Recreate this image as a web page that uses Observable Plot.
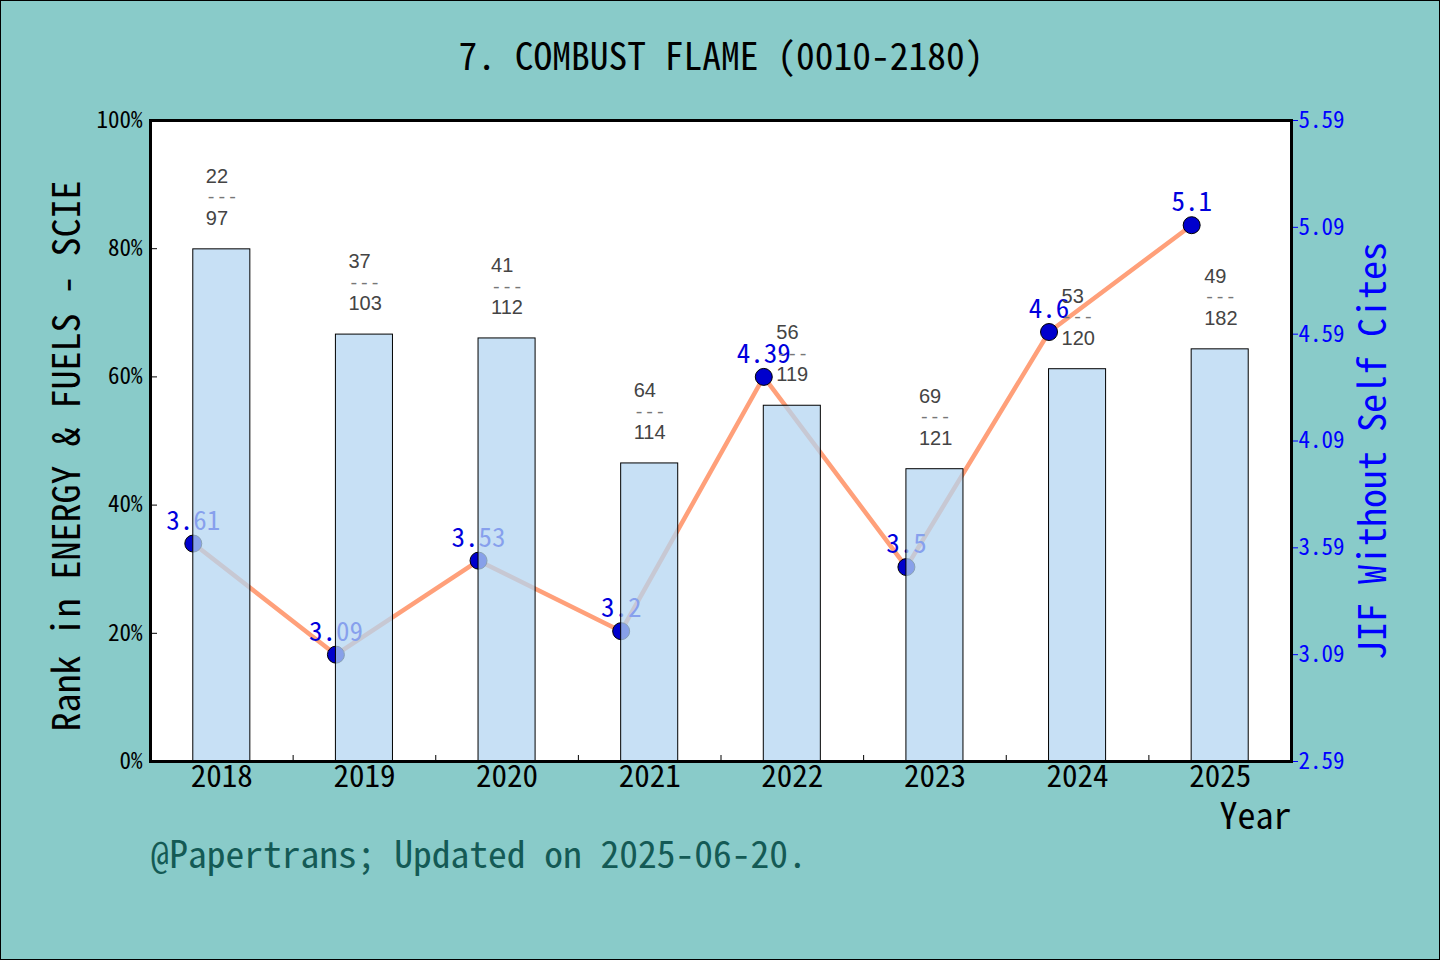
<!DOCTYPE html>
<html><head><meta charset="utf-8">
<script src="https://cdn.jsdelivr.net/npm/d3@7"></script>
<script src="https://cdn.jsdelivr.net/npm/@observablehq/plot@0.6"></script>
<style>
html,body{margin:0;padding:0;background:#89cbc9;}
#wrap{position:relative;width:1440px;height:960px;overflow:hidden;}
#wrap svg{display:block;}
#border{position:absolute;left:0;top:0;width:1438px;height:958px;border:1px solid #000;pointer-events:none;}
</style></head>
<body><div id="wrap"><div id="border"></div></div>
<script>
const years = [2018, 2019, 2020, 2021, 2022, 2023, 2024, 2025];
const rankPct = [79.9, 66.6, 66.0, 46.5, 55.5, 45.6, 61.2, 64.3];
const jif = [3.61, 3.09, 3.53, 3.2, 4.39, 3.5, 4.6, 5.1];
const ranks = [22, 37, 41, 64, 56, 69, 53, 49];
const totals = [97, 103, 112, 114, 119, 121, 120, 182];
const leftTicks = [0, 20, 40, 60, 80, 100];
const jifTicks = [2.59, 3.09, 3.59, 4.09, 4.59, 5.09, 5.59];
const minorTicks = [2018.5, 2019.5, 2020.5, 2021.5, 2022.5, 2023.5, 2024.5];
const titleText = "7. COMBUST FLAME (0010-2180)";
const leftTitle = "Rank in ENERGY & FUELS - SCIE";
const rightTitle = "JIF Without Self Cites";
const xTitle = "Year";
const footer = "@Papertrans; Updated on 2025-06-20.";

const mono = "'Noto Sans Mono CJK SC','DejaVu Sans Mono',monospace";
const sans = "'Liberation Sans',Arial,sans-serif";
const jifMin = 2.59, jifSpan = 3;
const toPct = v => (v - jifMin) / jifSpan * 100;
const data = years.map((year, i) => ({
  year, rank: rankPct[i], jif: jif[i], label: String(jif[i]),
  top: String(ranks[i]), bottom: String(totals[i])
}));

const chart = Plot.plot({
  width: 1440, height: 960,
  marginLeft: 150, marginRight: 149, marginTop: 120, marginBottom: 199,
  style: {background: "#89cbc9", fontFamily: mono, overflow: "visible"},
  x: {type: "linear", domain: [2017.5, 2025.5]},
  y: {domain: [0, 100]},
  marks: [
    Plot.frame({fill: "white", stroke: null}),
    Plot.line(data, {x: d => d.year - 0.2, y: d => toPct(d.jif), stroke: "#ffa07a", strokeWidth: 4.5}),
    Plot.dot(data, {x: d => d.year - 0.2, y: d => toPct(d.jif), r: 8.5, fill: "#0000cd", stroke: "black", strokeWidth: 1}),
    Plot.text(data, {x: d => d.year - 0.2, y: d => toPct(d.jif), text: "label", fill: "#0000dd", fontSize: 27, fontFamily: mono, lineAnchor: "bottom", dy: -14}),
    Plot.rectY(data, {x1: d => d.year - 0.2, x2: d => d.year + 0.2, y1: 0, y2: "rank", fill: "rgb(180,213,241)", fillOpacity: 0.75, stroke: "black", strokeWidth: 1}),
    Plot.text(data, {x: "year", y: "rank", text: "top", textAnchor: "start", lineAnchor: "middle", dx: -16, dy: -73, fontSize: 20, fill: "#444", fontFamily: sans}),
    Plot.text(data, {x: "year", y: "rank", text: () => "---", className: "dashes", textAnchor: "start", lineAnchor: "middle", dx: -16, dy: -52, fontSize: 19, fill: "#777", fontFamily: "'Liberation Mono','DejaVu Sans Mono',monospace"}),
    Plot.text(data, {x: "year", y: "rank", text: "bottom", textAnchor: "start", lineAnchor: "middle", dx: -16, dy: -31, fontSize: 20, fill: "#444", fontFamily: sans}),
    Plot.axisY({anchor: "left", ticks: leftTicks, tickFormat: d => d + "%", tickSize: -7, tickPadding: 15, fontSize: 23, fontFamily: mono, label: null, stroke: "black", fill: "black"}),
    Plot.axisY({anchor: "right", ticks: jifTicks.map(toPct), tickFormat: d => (d / 100 * jifSpan + jifMin).toFixed(2), tickSize: 6, tickPadding: 1, fontSize: 23, fontFamily: mono, label: null, stroke: "#0000ff", fill: "#0000ff"}),
    Plot.axisX({ticks: years, tickFormat: d => String(d), tickSize: 0, tickPadding: 3, fontSize: 31, fontFamily: mono, label: null, fill: "black"}),
    Plot.axisX({ticks: minorTicks, tickFormat: () => "", tickSize: -6, label: null, stroke: "black"}),
    Plot.frame({stroke: "black", strokeWidth: 3}),
    Plot.text([titleText], {text: d => d, frameAnchor: "top", dy: -63, lineAnchor: "middle", fontSize: 37.5, fontFamily: mono, fill: "black"}),
    Plot.text([leftTitle], {text: d => d, frameAnchor: "left", dx: -83, dy: 15, rotate: -90, lineAnchor: "middle", textAnchor: "middle", fontSize: 38, fontFamily: mono, fill: "black"}),
    Plot.text([rightTitle], {text: d => d, frameAnchor: "right", dx: 82, dy: 10, rotate: -90, lineAnchor: "middle", textAnchor: "middle", fontSize: 38, fontFamily: mono, fill: "#0000ff"}),
    Plot.text([xTitle], {text: d => d, frameAnchor: "bottom-right", dy: 56, textAnchor: "end", lineAnchor: "middle", fontSize: 36, fontFamily: mono, fill: "black"}),
    Plot.text([footer], {text: d => d, frameAnchor: "bottom-left", dy: 94, textAnchor: "start", lineAnchor: "middle", fontSize: 37.5, fontFamily: mono, fill: "#145a55"})
  ]
});
d3.select(chart).selectAll(".dashes text").attr("textLength", 32).attr("lengthAdjust", "spacingAndGlyphs");
document.getElementById("wrap").prepend(chart);
</script>
</body></html>
